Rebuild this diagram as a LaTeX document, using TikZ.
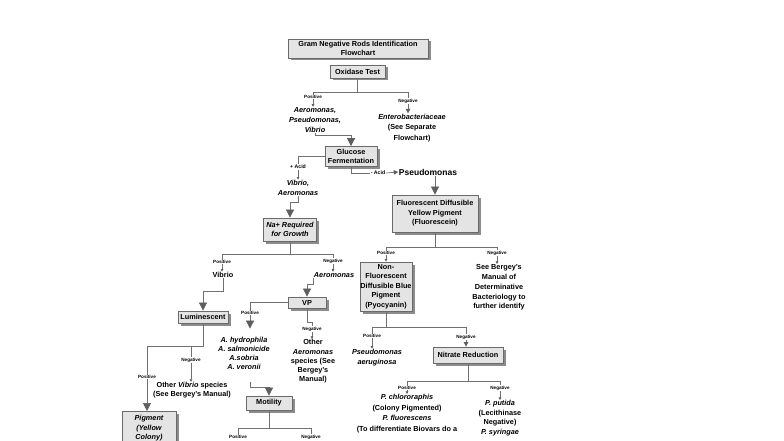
\documentclass[tikz,border=0pt]{standalone}
\usepackage{fontspec}
\setmainfont{Liberation Sans}
\usetikzlibrary{arrows.meta,shadows,calc}

\definecolor{boxfill}{HTML}{E4E4E4}
\definecolor{boxline}{HTML}{6A6A6A}
\definecolor{shadowc}{HTML}{8C8C8C}
\definecolor{linec}{HTML}{707070}
\definecolor{tipc}{HTML}{5E5E5E}

\newcommand\mainf{\fontsize{7.3}{9.5}\selectfont\bfseries}
\newcommand\titlef{\fontsize{7.3}{8.6}\selectfont\bfseries}
\newcommand\labf{\fontsize{4.6}{5}\selectfont\bfseries}
\newcommand\acidf{\fontsize{5.2}{6}\selectfont\bfseries}
\newcommand\pseudof{\fontsize{8.5}{10}\selectfont\bfseries}

\tikzset{
  flowbox/.style={draw=boxline, fill=boxfill, line width=0.8pt, align=center,
    font=\mainf, inner sep=0pt,
    drop shadow={shadow xshift=2.5pt, shadow yshift=-2.5pt, fill=shadowc, opacity=1}},
  txt/.style={font=\mainf, align=center, inner sep=0.5pt},
  txti/.style={font=\mainf\itshape, align=center, inner sep=0.5pt},
  labtxt/.style={font=\labf, inner sep=0.5pt},
  conn/.style={draw=linec, line width=0.7pt},
  bigtip/.style={-{Triangle[width=8pt,length=8pt,color=tipc]}},
  midtip/.style={-{Triangle[width=4.5pt,length=4.5pt,color=tipc]}},
  smalltip/.style={-{Triangle[width=2.6pt,length=2.6pt,color=tipc]}}
}

\begin{document}
\begin{tikzpicture}[x=1pt,y=-1pt]
\useasboundingbox[fill=white] (0,0) rectangle (784,441);
\clip (0,0) rectangle (784,441);

% ---------- boxes ----------
\node[flowbox, font=\titlef, minimum width=140pt, minimum height=19pt] (title) at (358,48.5) {Gram Negative Rods Identification\\Flowchart};
\node[flowbox, minimum width=55pt, minimum height=13pt] (oxi) at (357.5,71.5) {Oxidase Test};
\node[flowbox, minimum width=52pt, minimum height=20pt] (glu) at (351,156.5) {Glucose\\Fermentation};
\node[flowbox, font=\mainf\itshape, minimum width=53pt, minimum height=23pt] (na) at (290,229.5) {Na+ Required\\for Growth};
\node[flowbox, minimum width=86pt, minimum height=37pt] (fluor) at (435,213.5) {Fluorescent Diffusible\\Yellow Pigment\\(Fluorescein)};
\node[flowbox, minimum width=52pt, minimum height=49pt] (nonfl) at (386,286.5) {Non-\\Fluorescent\\Diffusible Blue\\Pigment\\(Pyocyanin)};
\node[flowbox, minimum width=70pt, minimum height=16pt] (nitr) at (468,355) {Nitrate Reduction};
\node[flowbox, minimum width=50pt, minimum height=12pt] (lumin) at (203,317) {Luminescent};
\node[flowbox, minimum width=38pt, minimum height=11pt] (vp) at (307,302.5) {VP};
\node[flowbox, minimum width=46pt, minimum height=14pt] (mot) at (269,403) {Motility};
\node[flowbox, font=\mainf\itshape, anchor=north, minimum width=54pt, inner ysep=4pt] (pig) at (149,411) {Pigment\\(Yellow\\Colony)};

% ---------- labels and texts ----------
\node[labtxt] (pos1) at (313,97) {Positive};
\node[labtxt] (neg1) at (408,101) {Negative};
\node[txti, font=\fontsize{7.3}{10}\selectfont\bfseries\itshape] (apv) at (315,120) {Aeromonas,\\Pseudomonas,\\Vibrio};
\node[txt, font=\fontsize{7.3}{10.5}\selectfont\bfseries] (ent) at (412,128) {\textit{Enterobacteriaceae}\\(See Separate\\Flowchart)};

\node[labtxt, font=\acidf] (pacid) at (298,167) {+ Acid};
\node[txti, font=\fontsize{7.3}{10}\selectfont\bfseries\itshape] (va) at (298,188) {Vibrio,\\Aeromonas};
\node[labtxt, font=\acidf] (macid) at (378,173) {- Acid};
\node[txt, font=\pseudof] (pseudo) at (428,172) {Pseudomonas};

\node[labtxt] (pos2) at (386,253) {Positive};
\node[labtxt] (neg2) at (497,253) {Negative};
\node[txt, font=\fontsize{7.3}{9.75}\selectfont\bfseries] (bergey) at (499,287.5) {See Bergey's\\Manual of\\Determinative\\Bacteriology to\\further identify};

\node[labtxt] (pos3) at (372,336) {Positive};
\node[labtxt] (neg3) at (466,337) {Negative};
\node[txti] (paer) at (377,357.5) {Pseudomonas\\aeruginosa};

\node[labtxt] (pos4) at (407,388) {Positive};
\node[labtxt] (neg4) at (500,388) {Negative};
\node[txt, anchor=north, font=\fontsize{7.3}{10.5}\selectfont\bfseries] (pchl) at (407,394) {\textit{P. chlororaphis}\\(Colony Pigmented)\\\textit{P. fluorescens}\\(To differentiate Biovars do a};
\node[txt, anchor=north, font=\fontsize{7.3}{9.5}\selectfont\bfseries] (pput) at (500,400) {\textit{P. putida}\\(Lecithinase\\Negative)\\\textit{P. syringae}};

\node[labtxt] (pos5) at (222,262) {Positive};
\node[labtxt] (neg5) at (333,261) {Negative};
\node[txt] (vib) at (223,275) {Vibrio};
\node[txti] (aer2) at (334,275) {Aeromonas};

\node[labtxt] (pos6) at (250,313) {Positive};
\node[txti, font=\fontsize{7.3}{9}\selectfont\bfseries\itshape] (hydro) at (244,353.5) {A. hydrophila\\A. salmonicide\\A.sobria\\A. veronii};
\node[labtxt] (neg6) at (312,329) {Negative};
\node[txt, font=\fontsize{7.3}{9.2}\selectfont\bfseries] (othaer) at (313,361.5) {Other\\\textit{Aeromonas}\\species (See\\Bergey's\\Manual)};

\node[labtxt] (pos7) at (147,377) {Positive};
\node[labtxt] (neg7) at (191,360) {Negative};
\node[txt, font=\fontsize{7.3}{9}\selectfont\bfseries] (othvib) at (192,390.5) {Other \textit{Vibrio} species\\(See Bergey's Manual)};

\node[labtxt] (pos8) at (238,437) {Positive};
\node[labtxt] (neg8) at (311,437) {Negative};

% ---------- connectors ----------
\draw[conn] (oxi.south) -- ++(0,14) -| (pos1.north);
\draw[conn] (oxi.south) -- ++(0,14) -| (neg1.north);
\draw[conn, smalltip] (pos1.south) -- (pos1.south |- apv.north);
\draw[conn, midtip] (neg1.south) -- (neg1.south |- ent.north);
\draw[conn, bigtip] (apv.south) -- ++(0,2) -| (glu.north);

\draw[conn] (glu.west) -| (pacid.north);
\draw[conn, smalltip] (pacid.south) -- (va.north);
\draw[conn, bigtip] (va.south) -- ++(0,6) -| (na.north);
\draw[conn] (glu.south) |- (macid.west);
\draw[conn, midtip] (macid.east) -- (pseudo.west);
\draw[conn, bigtip] (pseudo.south -| fluor.north) -- (fluor.north);

\draw[conn] (fluor.south) -- ++(0,15) -| (pos2.north);
\draw[conn] (fluor.south) -- ++(0,15) -| (neg2.north);
\draw[conn, smalltip] (pos2.south) -- (pos2.south |- nonfl.north);
\draw[conn, smalltip] (neg2.south) -- (neg2.south |- bergey.north);

\draw[conn] (nonfl.south) -- ++(0,16) -| (pos3.north);
\draw[conn] (nonfl.south) -- ++(0,16) -| (neg3.north);
\draw[conn, smalltip] (pos3.south) -- (pos3.south |- paer.north);
\draw[conn, midtip] (neg3.south) -- (neg3.south |- nitr.north);

\draw[conn] (nitr.south) -- ++(0,18) -| (pos4.north);
\draw[conn] (nitr.south) -- ++(0,18) -| (neg4.north);
\draw[conn, smalltip] (pos4.south) -- (pchl.north);
\draw[conn, smalltip] (neg4.south) -- (pput.north);

\draw[conn] (na.south) -- ++(0,13) -| (pos5.north);
\draw[conn] (na.south) -- ++(0,13) -| (neg5.north);
\draw[conn, smalltip] (pos5.south) -- (pos5.south |- vib.north);
\draw[conn, smalltip] (neg5.south) -- (neg5.south |- aer2.north);
\draw[conn, bigtip] (vib.south) -- ++(0,13) -| (lumin.north);
\draw[conn, bigtip] (aer2.south west) -- ++(0,6) -| (vp.north);

\draw[conn] (vp.west) -| (pos6.north);
\draw[conn, bigtip, shorten >=8pt] (pos6.south) -- (pos6.south |- hydro.north);
\draw[conn, bigtip] ($(hydro.south)+(6,12)$) -- ++(0,5) -| (mot.north);
\draw[conn] (vp.south) -- ++(0,14) -| (neg6.north);
\draw[conn, smalltip] (neg6.south) -- (neg6.south |- othaer.north);

\draw[conn] (lumin.south) -- ++(0,23) -| (pos7.north);
\draw[conn] (lumin.south) -- ++(0,23) -| (neg7.north);
\draw[conn, smalltip] (neg7.south) -- (neg7.south |- othvib.north);
\draw[conn, bigtip] (pos7.south) -- (pos7.south |- pig.north);

\draw[conn] (mot.south) -- ++(0,18) -| (pos8.north);
\draw[conn] (mot.south) -- ++(0,18) -| (neg8.north);
\end{tikzpicture}
\end{document}
